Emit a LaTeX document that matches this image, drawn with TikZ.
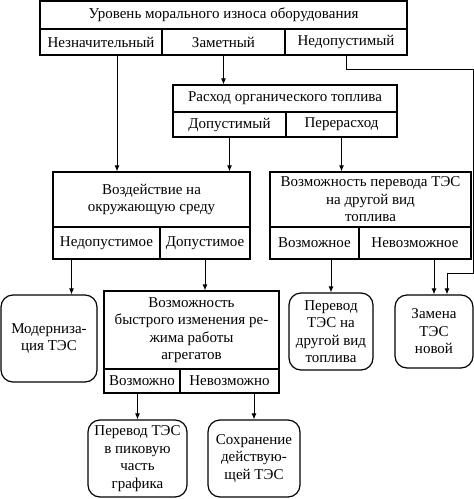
\documentclass[tikz,border=0pt]{standalone}
\usepackage{fontspec}
\setmainfont{Liberation Serif}
\usetikzlibrary{arrows.meta}

\begin{document}
\begin{tikzpicture}[x=1pt, y=-1pt,
  font=\fontsize{15}{17.5}\selectfont,
  box/.style={draw, line width=1.2pt, inner sep=0pt, align=center},
  endbox/.style={draw, line width=1.2pt, rounded corners=12pt, inner sep=0pt, align=center},
  arr/.style={line width=0.9pt, -{Latex[length=6pt, width=5pt]}}]
\useasboundingbox (0,0) rectangle (474,499);

% level of obsolescence
\node [box, minimum width=367pt, minimum height=28pt] (uroven) at (223.5,15) {Уровень морального износа оборудования};
\node [box, minimum width=122pt, minimum height=26pt] (nezn) at (101,42) {Незначительный};
\node [box, minimum width=123pt, minimum height=26pt] (zamet) at (223.5,42) {Заметный};
\node [box, minimum width=122pt, minimum height=26pt] (nedop) at (346,42) {Недопустимый};

% fuel consumption
\node [box, minimum width=224pt, minimum height=27pt] (rashod) at (285,98.5) {Расход органического топлива};
\node [box, minimum width=113pt, minimum height=25pt] (dopust) at (229.5,124.5) {Допустимый};
\node [box, minimum width=111pt, minimum height=25pt] (pererash) at (341.5,124.5) {Перерасход};

% environment
\node [box, minimum width=197pt, minimum height=55pt] (vozd) at (151.5,199.5) {Воздействие на\\окружающую среду};
\node [box, minimum width=107pt, minimum height=32pt] (vozdnedop) at (106.5,243) {Недопустимое};
\node [box, minimum width=90pt, minimum height=32pt] (vozddop) at (205,243) {Допустимое};

% other fuel
\node [box, minimum width=201pt, minimum height=55pt] (perevod) at (370.5,199.5) {Возможность перевода ТЭС\\на другой вид\\топлива};
\node [box, minimum width=89pt, minimum height=32pt] (pervozm) at (314.5,243) {Возможное};
\node [box, minimum width=112pt, minimum height=32pt] (pernevozm) at (415,243) {Невозможное};

% fast load change
\node [box, minimum width=175pt, minimum height=78pt] (bystr) at (191.5,330) {Возможность\\быстрого изменения ре-\\жима работы\\агрегатов};
\node [box, minimum width=76pt, minimum height=24pt] (bysvozm) at (142,381) {Возможно};
\node [box, minimum width=99pt, minimum height=24pt] (bysnevozm) at (229.5,381) {Невозможно};

% results
\node [endbox, minimum width=96pt, minimum height=87pt] (modern) at (49,338.5) {Модерниза-\\ция ТЭС};
\node [endbox, minimum width=84pt, minimum height=77pt] (drugoj) at (331,331.5) {Перевод\\ТЭС на\\другой вид\\топлива};
\node [endbox, minimum width=78pt, minimum height=73pt] (zamena) at (434,331.5) {Замена\\ТЭС\\новой};
\node [endbox, minimum width=99pt, minimum height=77pt] (pikovaya) at (137.5,458.5) {Перевод ТЭС\\в пиковую\\часть\\графика};
\node [endbox, minimum width=92pt, minimum height=77pt] (sohr) at (254,458.5) {Сохранение\\действую-\\щей ТЭС};

\coordinate (povorot) at (473,273);

\draw[arr] ([xshift=16pt]nezn.south) -- ([xshift=16pt]nezn.south |- vozd.north);
\draw[arr] (zamet.south) -- (zamet.south |- rashod.north);
\draw[arr] (dopust.south) -- (dopust.south |- vozd.north);
\draw[arr] (pererash.south) -- (pererash.south |- perevod.north);
\draw[arr] ([xshift=-35pt]vozdnedop.south) -- ([xshift=-35pt]vozdnedop.south |- modern.north);
\draw[arr] (vozddop.south) -- (vozddop.south |- bystr.north);
\draw[arr] (pervozm.south -| drugoj.north) -- (drugoj.north);
\draw[arr] (pernevozm.south -| zamena.north) -- (zamena.north);
\draw[arr] (bysvozm.south -| pikovaya.north) -- (pikovaya.north);
\draw[arr] (bysnevozm.south -| sohr.north) -- (sohr.north);
\draw[arr] (nedop.south) -- ++(0,14) -| (povorot) -- ([xshift=13pt]zamena.north |- povorot) -- ([xshift=13pt]zamena.north);
\end{tikzpicture}
\end{document}
